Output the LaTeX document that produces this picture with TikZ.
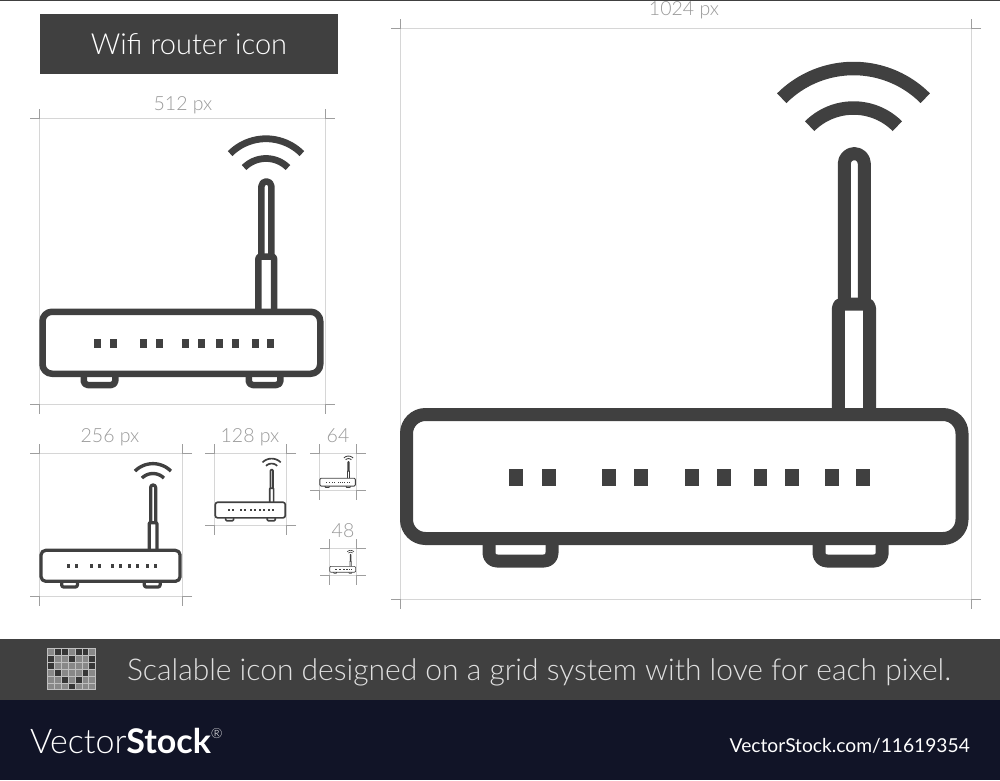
\documentclass[tikz,border=0pt]{standalone}
\usepackage{fontspec}
\setmainfont{Lato}
\newfontfamily\lightfont{Lato Light}
\usetikzlibrary{positioning}
\definecolor{icondark}{RGB}{64,64,64}
\definecolor{barnavy}{RGB}{17,20,39}
\definecolor{gridmid}{RGB}{136,136,136}
\tikzset{
	iconline/.style = {draw=icondark, line cap=butt, line join=round},
	ledbox/.style = {fill=icondark},
	guideline/.style = {draw=black!16, line width=1pt},
	tickline/.style = {draw=black!38, line width=0.9pt},
	sizelabel/.style = {text=black!40, anchor=base, font=\lightfont\fontsize{19.5}{19.5}\selectfont, inner sep=0pt},
	gridcell/.style = {fill=gridmid, draw=black!25, line width=0.9pt},
	darkcell/.style = {fill=icondark!85!black, draw=black!25, line width=0.9pt}
}
% guides and router, #1,#2 = corner of the box, #3 = size of the box
\newcommand{\routericon}[3]{
	\pgfmathsetmacro{\ico}{#3/571}
	\draw[guideline] (#1,#2) rectangle ++(#3,#3);
	\draw[tickline] (#1-9.5,#2) -- (#1,#2) -- (#1,#2-9.5);
	\draw[tickline] (#1+#3+9.5,#2) -- (#1+#3,#2) -- (#1+#3,#2-9.5);
	\draw[tickline] (#1-9.5,#2+#3) -- (#1,#2+#3) -- (#1,#2+#3+9.5);
	\draw[tickline] (#1+#3+9.5,#2+#3) -- (#1+#3,#2+#3) -- (#1+#3,#2+#3+9.5);
	\begin{scope}[shift={(#1,#2)}, x=\ico pt, y=-\ico pt, line width=\ico*13pt]
		% wifi waves
		\draw[iconline, line width=\ico*13.5pt] plot[smooth, domain=45:135, samples=25] ({453+101.5*cos(\x)},{142-101.5*sin(\x)});
		\draw[iconline, line width=\ico*13.5pt] plot[smooth, domain=45:135, samples=25] ({453+62*cos(\x)},{142-62*sin(\x)});
		% antenna
		\draw[iconline, rounded corners=\ico*10pt] (443.8,276) -- (443.8,125.6) -- (463.8,125.6) -- (463.8,276);
		\draw[iconline, rounded corners=\ico*4pt] (437.9,386.5) -- (437.9,276) -- (469,276) -- (469,386.5);
		% feet
		\draw[iconline, rounded corners=\ico*8pt] (88.5,510.5) -- (88.5,533) -- (151.5,533) -- (151.5,510.5);
		\draw[iconline, rounded corners=\ico*8pt] (418.5,510.5) -- (418.5,533) -- (481.7,533) -- (481.7,510.5);
		% body
		\draw[iconline, rounded corners=\ico*19pt] (6,386.5) rectangle (561.5,510.5);
		\foreach \ledx in {108.7,141.2,201.2,233.3,284.2,316.3,353,384.5,424.2,455.8}
			\fill[ledbox] (\ledx,441.3) rectangle ++(13.8,16.7);
	\end{scope}
}
\begin{document}
\begin{tikzpicture}[x=1pt, y=-1pt]
	\useasboundingbox (0,0) rectangle (1000,780);
	\fill[icondark] (0,0) rectangle (1000,1);
	
	% title
	\node[fill=icondark, minimum width=298pt, minimum height=60pt, inner sep=0pt, text=white, font=\lightfont\fontsize{29}{29}\selectfont] (title) at (189,44) {Wifi router icon};
	
	% size boxes
	\routericon{400.5}{28}{571}
	\routericon{39.5}{118.5}{285.5}
	\routericon{39.5}{453.5}{143}
	\routericon{214.5}{453.5}{72}
	\routericon{319.5}{453.5}{36.5}
	\routericon{329.5}{548.5}{26.5}
	
	% size labels
	\node[sizelabel] (big) at (684,15.5) {1024 px};
	\node[sizelabel] (half) at (183,110) {512 px};
	\node[sizelabel] (quarter) at (110,442.5) {256 px};
	\node[sizelabel] (eighth) at (250,442.5) {128 px};
	\node[sizelabel] (tiny) at (338,442.5) {64};
	\node[sizelabel] (smallest) at (343,537) {48};
	
	% bottom bars
	\fill[icondark] (0,639) rectangle (1000,700);
	\fill[barnavy] (0,700) rectangle (1000,780);
	
	% grid sign
	\foreach \gx in {0,...,6}
		\foreach \gy in {0,...,5}
			\draw[gridcell] (47.5+\gx*6.9,648.5+\gy*6.9) rectangle ++(6.9,6.9);
	\foreach \gx/\gy in {1/0,2/0,4/0,5/0,0/1,3/1,6/1,0/2,6/2,1/3,5/3,2/4,4/4,3/5}
		\draw[darkcell] (47.5+\gx*6.9,648.5+\gy*6.9) rectangle ++(6.9,6.9);
	
	\node[text=black!12, anchor=base, font=\lightfont\fontsize{30}{30}\selectfont, inner sep=0pt] (slogan) at (539,680) {Scalable icon designed on a grid system with love for each pixel.};
	
	% brand
	\node[text=white, anchor=base west, font=\fontsize{34}{34}\selectfont, inner sep=0pt] (brand) at (30,753.5) {{\lightfont Vector}\textbf{Stock}\raisebox{15pt}{\lightfont\fontsize{14}{14}\selectfont ®}};
	\node[text=white, anchor=base east, font=\fontsize{19.2}{19.2}\selectfont, inner sep=0pt] (link) at (970,752.7) {VectorStock.com/11619354};
\end{tikzpicture}
\end{document}
